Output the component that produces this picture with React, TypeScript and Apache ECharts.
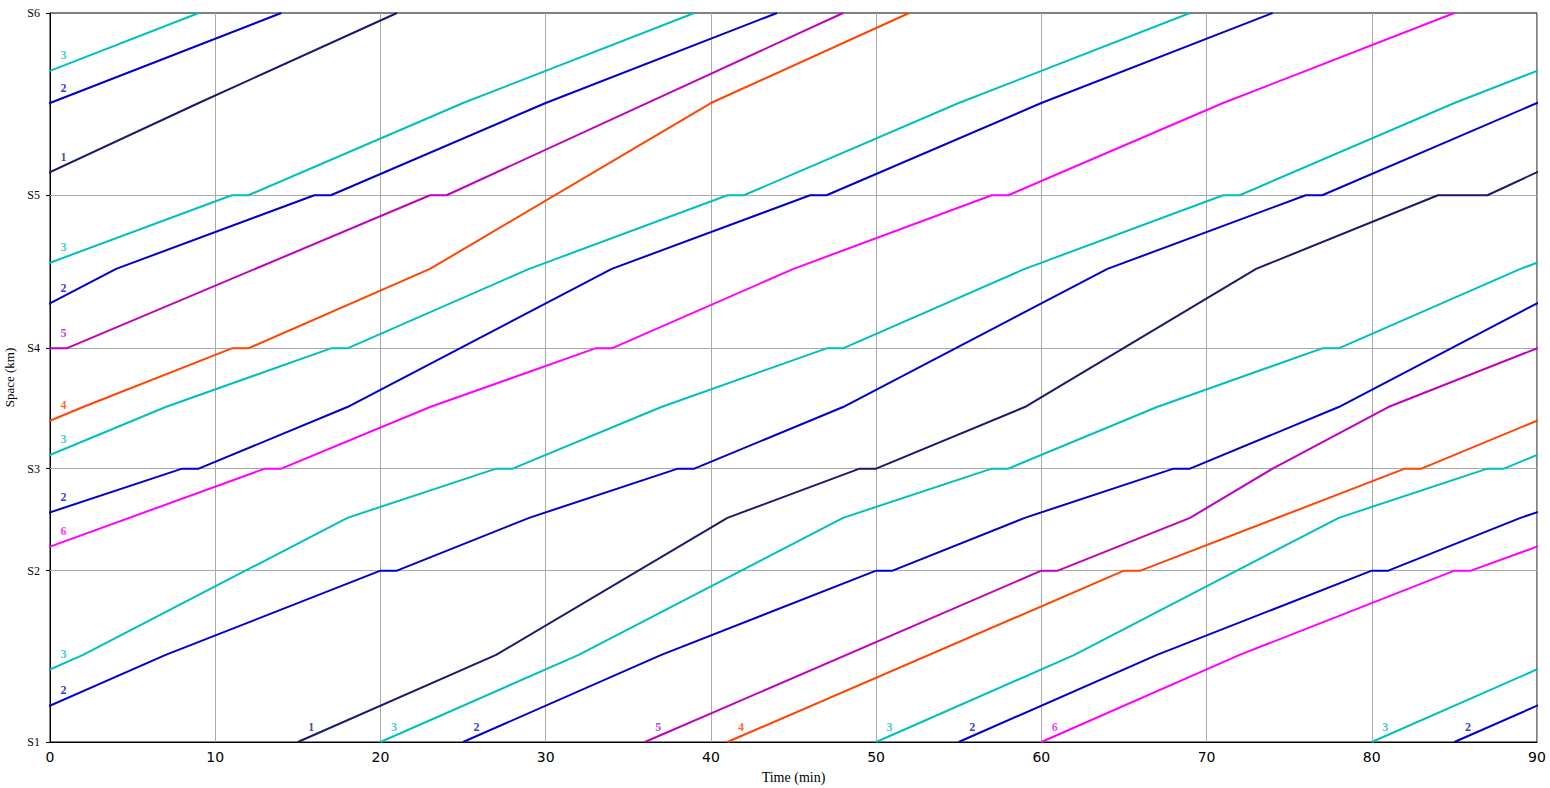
import React, { useEffect, useRef } from 'react';
import * as echarts from 'echarts';

// Stations (km along the line)
const stationNames = ['S1', 'S2', 'S3', 'S4', 'S5', 'S6'];
const stationKm = [0, 4.7, 7.5, 10.8, 15.0, 20.0];
// Intermediate timing points between stations (km)
const midNames = ['m1', 'm2', 'm3', 'm4', 'm5'];
const midKm = [2.39, 6.15, 9.19, 12.98, 17.53];

const xTicks = [0, 10, 20, 30, 40, 50, 60, 70, 80, 90];

// Running patterns per train type: [minutes after departure from S1, point]
const pattern1: [number, string][] = [[0, 'S1'], [12, 'm1'], [26, 'm2'], [34, 'S3'], [35, 'S3'], [44, 'm3'], [58, 'm4'], [69, 'S5'], [72, 'S5'], [84, 'm5'], [96, 'S6']];
const pattern2: [number, string][] = [[0, 'S1'], [12, 'm1'], [25, 'S2'], [26, 'S2'], [34, 'm2'], [43, 'S3'], [44, 'S3'], [53, 'm3'], [69, 'm4'], [81, 'S5'], [82, 'S5'], [95, 'm5'], [109, 'S6']];
const pattern3: [number, string][] = [[0, 'S1'], [12, 'm1'], [28, 'm2'], [37, 'S3'], [38, 'S3'], [47, 'm3'], [57, 'S4'], [58, 'S4'], [69, 'm4'], [81, 'S5'], [82, 'S5'], [95, 'm5'], [109, 'S6']];
const pattern4: [number, string][] = [[0, 'S1'], [24, 'S2'], [25, 'S2'], [41, 'S3'], [42, 'S3'], [51, 'm3'], [60, 'S4'], [61, 'S4'], [72, 'm4'], [89, 'm5'], [101, 'S6']];
const pattern5: [number, string][] = [[0, 'S1'], [24, 'S2'], [25, 'S2'], [33, 'm2'], [38, 'S3'], [45, 'm3'], [54, 'S4'], [55, 'S4'], [77, 'S5'], [78, 'S5'], [102, 'S6']];
const pattern6: [number, string][] = [[0, 'S1'], [12, 'm1'], [25, 'S2'], [26, 'S2'], [43, 'S3'], [44, 'S3'], [53, 'm3'], [63, 'S4'], [64, 'S4'], [75, 'm4'], [87, 'S5'], [88, 'S5'], [101, 'm5'], [115, 'S6']];

// Departure times from S1 (min) per train type
const departures1 = [-75, 15];
const departures2 = [-95, -65, -35, -5, 25, 55, 85];
const departures3 = [-100, -70, -40, -10, 20, 50, 80];
const departures4 = [-49, 41];
const departures5 = [-54, 36];
const departures6 = [-30, 60];

const typeLabels = ['1', '2', '3', '4', '5', '6'];
const typeColors = ['#191970', '#0000CD', '#00BFBF', '#FF4500', '#BF00BF', '#FF00FF'];

const patterns = [pattern1, pattern2, pattern3, pattern4, pattern5, pattern6];
const departures = [departures1, departures2, departures3, departures4, departures5, departures6];

function kmOf(key: string): number {
  const si = stationNames.indexOf(key);
  if (si >= 0) return stationKm[si];
  return midKm[midNames.indexOf(key)];
}

function valueAt(points: number[][], t: number): number {
  for (let i = 0; i < points.length - 1; i++) {
    const [t1, y1] = points[i];
    const [t2, y2] = points[i + 1];
    if (t >= t1 && t <= t2) {
      if (t2 === t1) return y1;
      return y1 + ((t - t1) / (t2 - t1)) * (y2 - y1);
    }
  }
  return points[points.length - 1][1];
}

export default function App() {
  const ref = useRef<HTMLDivElement>(null);

  useEffect(() => {
    if (!ref.current) return;
    const chart = echarts.init(ref.current, null, { renderer: 'svg' });

    const lineSeries: any[] = [];
    const labelData: any[] = [];
    patterns.forEach((pat, ti) => {
      departures[ti].forEach((t0) => {
        const pts = pat.map(([r, k]) => [t0 + r, kmOf(k)]);
        lineSeries.push({
          type: 'line',
          name: 'Train ' + typeLabels[ti],
          data: pts,
          showSymbol: false,
          symbol: 'none',
          clip: true,
          z: 10,
          lineStyle: { color: typeColors[ti], width: 2 },
          emphasis: { disabled: true },
        });
        const sx = Math.max(t0, 0);
        const sy = t0 >= 0 ? pts[0][1] : valueAt(pts, 0);
        labelData.push({
          name: typeLabels[ti],
          value: [sx, sy],
          label: { color: typeColors[ti] },
        });
      });
    });

    const option: any = {
      animation: false,
      backgroundColor: '#ffffff',
      grid: {
        left: 50,
        right: 13,
        top: 13,
        bottom: 46,
        outerBoundsMode: 'none',
        containLabel: false,
        show: true,
        borderColor: '#000',
        borderWidth: 1,
        backgroundColor: 'transparent',
      },
      xAxis: {
        type: 'value',
        min: 0,
        max: 90,
        interval: 10,
        name: 'Time (min)',
        nameLocation: 'middle',
        nameGap: 28,
        nameTextStyle: { fontFamily: 'Liberation Serif', fontSize: 14, color: '#000' },
        axisLine: { show: true, lineStyle: { color: '#000', width: 1 } },
        axisTick: { show: false },
        axisLabel: {
          color: '#000',
          fontFamily: 'DejaVu Sans',
          fontSize: 14,
          margin: 8,
          formatter: (v: number) => (xTicks.indexOf(v) >= 0 ? String(v) : ''),
        },
        splitLine: { show: true, lineStyle: { color: '#aaaaaa', width: 1, type: 'solid' } },
      },
      yAxis: {
        type: 'value',
        min: stationKm[0],
        max: stationKm[stationKm.length - 1],
        name: 'Space (km)',
        nameLocation: 'middle',
        nameGap: 31,
        nameTextStyle: { fontFamily: 'Liberation Serif', fontSize: 13, color: '#000' },
        axisLine: { show: true, lineStyle: { color: '#000', width: 1 } },
        axisTick: {
          show: true,
          length: 4,
          customValues: stationKm,
          lineStyle: { color: '#000' },
        },
        axisLabel: {
          color: '#000',
          fontFamily: 'Liberation Serif',
          fontSize: 12,
          margin: 10,
          customValues: stationKm,
          formatter: (v: number) => {
            const i = stationKm.findIndex((s) => Math.abs(s - v) < 1e-6);
            return i >= 0 ? stationNames[i] : '';
          },
        },
        splitLine: { show: false },
      },
      series: [
        {
          type: 'scatter',
          name: 'labels',
          data: labelData,
          symbol: 'circle',
          symbolSize: 1,
          z: 1,
          itemStyle: { color: 'rgba(0,0,0,0)' },
          emphasis: { disabled: true },
          label: {
            show: true,
            position: [11, -21],
            formatter: '{b}',
            fontFamily: 'Liberation Serif',
            fontWeight: 'bold',
            fontSize: 12,
          },
          markLine: {
            silent: true,
            z: 1,
            symbol: 'none',
            label: { show: false },
            lineStyle: { color: '#aaaaaa', width: 1, type: 'solid' },
            emphasis: { disabled: true },
            data: stationKm.slice(1, stationKm.length - 1).map((k) => ({ yAxis: k })),
          },
        },
        ...lineSeries,
      ],
    };

    chart.setOption(option);
    return () => chart.dispose();
  }, []);

  return (
    <div
      ref={ref}
      style={{ position: 'absolute', left: 0, top: 0, width: 1550, height: 788 }}
    />
  );
}
